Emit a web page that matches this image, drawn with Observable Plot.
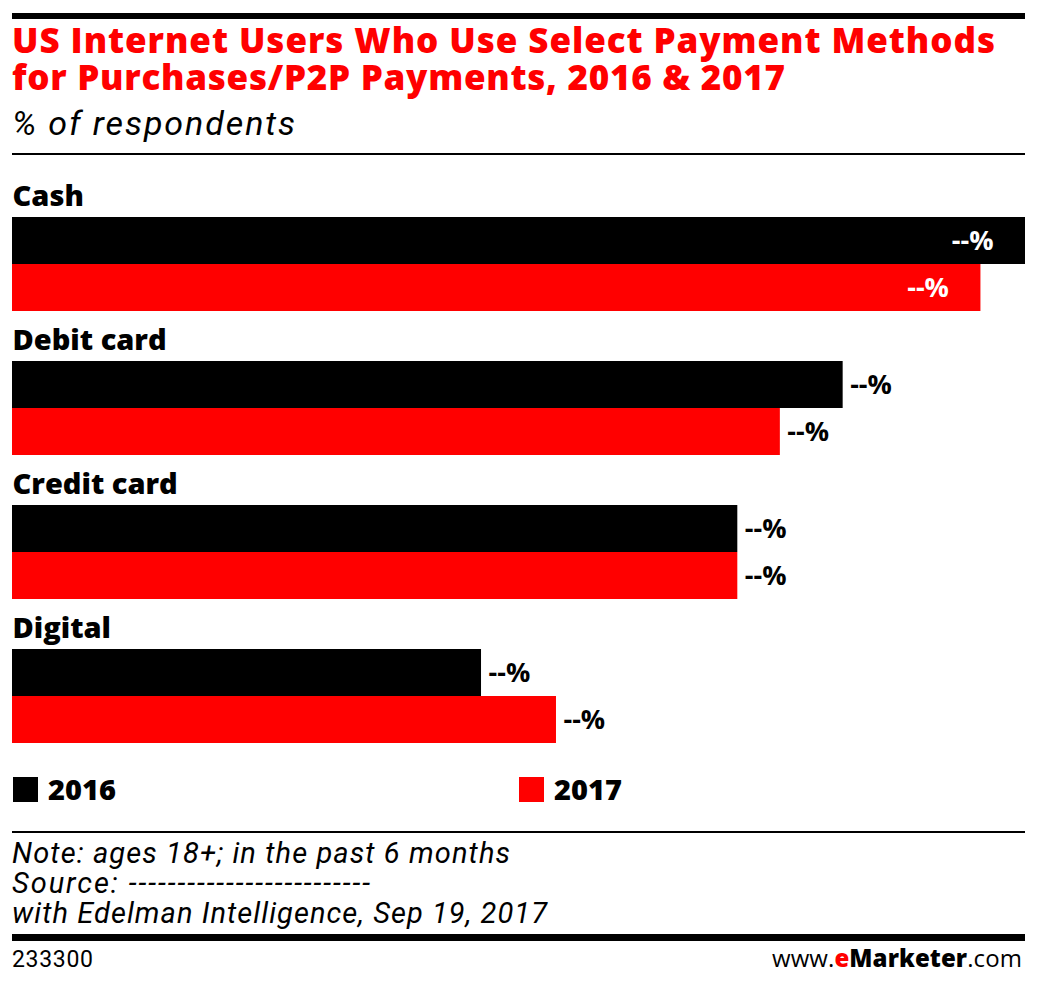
<!DOCTYPE html>
<html><head><meta charset="utf-8">
<script src="https://cdn.jsdelivr.net/npm/d3@7"></script>
<script src="https://cdn.jsdelivr.net/npm/@observablehq/plot@0.6"></script>
<style>
body{margin:0;background:#fff;width:1038px;height:987px;position:relative;overflow:hidden;font-family:"Open Sans",sans-serif;color:#000;}
.abs{position:absolute;white-space:nowrap;}
.fit{display:inline-block;}
.line{position:absolute;left:0;white-space:nowrap;}
</style></head><body>
<div class="abs" style="left:12px;top:13px;width:1013px;height:6px;background:#000"></div>
<div class="abs" style="left:12px;top:21px;font:800 35px/38px 'Open Sans';color:#f00">
<span class="line" style="top:0"><span class="fit" data-w="983">US Internet Users Who Use Select Payment Methods</span></span>
<span class="line" style="top:37px"><span class="fit" data-w="773">for Purchases/P2P Payments, 2016 &amp; 2017</span></span></div>
<div class="abs" style="left:12px;top:103px;font:italic 400 34px/40px 'Roboto'"><span class="fit" data-w="283">% of respondents</span></div>
<div class="abs" style="left:12px;top:153px;width:1013px;height:2px;background:#000"></div>
<div id="chart" class="abs" style="left:0;top:160px"></div>
<div id="legend"></div>
<div class="abs" style="left:12px;top:831px;width:1013px;height:2px;background:#000"></div>
<div class="abs" style="left:12px;top:838px;font:italic 400 29px/30px 'Roboto'">
<span class="line" style="top:0"><span class="fit" data-w="498">Note: ages 18+; in the past 6 months</span></span>
<span class="line" style="top:30px"><span class="fit" data-w="358">Source: -------------------------</span></span>
<span class="line" style="top:60px"><span class="fit" data-w="535">with Edelman Intelligence, Sep 19, 2017</span></span></div>
<div class="abs" style="left:12px;top:934px;width:1013px;height:7px;background:#000"></div>
<div class="abs" style="left:12px;top:945px;font:400 23px/30px 'Roboto'"><span class="fit" data-w="81">233300</span></div>
<div class="abs" style="right:16px;top:943px;font:400 24px/30px 'Open Sans'"><span class="fit" data-w="250">www.<b style="color:#f00;font-weight:800">e</b><b style="font-weight:800">Marketer</b>.com</span></div>
<script>
const categories = ["Cash", "Debit card", "Credit card", "Digital"];
const years = ["2016", "2017"];
const values2016 = [100, 82.0, 71.6, 46.3];
const values2017 = [95.6, 75.8, 71.6, 53.7];
const labels2016 = ["--%", "--%", "--%", "--%"];
const labels2017 = ["--%", "--%", "--%", "--%"];
const yearColors = ["#000000", "#ff0000"];

const rows = categories.flatMap((c, i) => [
  {cat: c, year: years[0], value: values2016[i], label: labels2016[i]},
  {cat: c, year: years[1], value: values2017[i], label: labels2017[i]}
]);
const inside = d => d.value > 90;

const chart = Plot.plot({
  width: 1038, height: 600,
  marginLeft: 12, marginRight: 13, marginTop: 56, marginBottom: 16,
  style: {fontFamily: "'Open Sans', sans-serif", background: "transparent"},
  x: {domain: [0, 100], axis: null},
  y: {domain: years, axis: null, padding: 0},
  fy: {domain: categories, axis: null, paddingInner: 0.35, paddingOuter: 0},
  color: {domain: years, range: yearColors},
  marks: [
    Plot.barX(rows, {x: "value", y: "year", fy: "cat", fill: "year"}),
    Plot.text(rows.filter(inside), {x: "value", y: "year", fy: "cat", text: "label", textAnchor: "end", dx: -32, fill: "#fff", fontSize: 27, fontWeight: 700}),
    Plot.text(rows.filter(d => !inside(d)), {x: "value", y: "year", fy: "cat", text: "label", textAnchor: "start", dx: 7, fill: "#000", fontSize: 27, fontWeight: 700}),
    Plot.text(categories, {fy: d => d, text: d => d, frameAnchor: "top-left", textAnchor: "start", lineAnchor: "middle", dy: -21, fill: "#000", fontSize: 29, fontWeight: 800})
  ]
});
document.getElementById("chart").appendChild(chart);

// legend
const legend = document.getElementById("legend");
const legX = [13, 519];
years.forEach((y, i) => {
  const sw = document.createElement("div");
  sw.className = "abs";
  sw.style.cssText = `left:${legX[i]}px;top:777px;width:25px;height:25px;background:${yearColors[i]}`;
  legend.appendChild(sw);
  const t = document.createElement("div");
  t.className = "abs";
  t.style.cssText = `left:${legX[i] + 35}px;top:770px;font:800 29px/38px 'Open Sans'`;
  t.textContent = y;
  legend.appendChild(t);
});

// fit text widths
document.querySelectorAll(".fit").forEach(el => {
  const target = +el.dataset.w;
  const w = el.getBoundingClientRect().width;
  const n = el.textContent.length - 1;
  if (n > 0) el.style.letterSpacing = ((target - w) / n) + "px";
});
</script>
</body></html>
